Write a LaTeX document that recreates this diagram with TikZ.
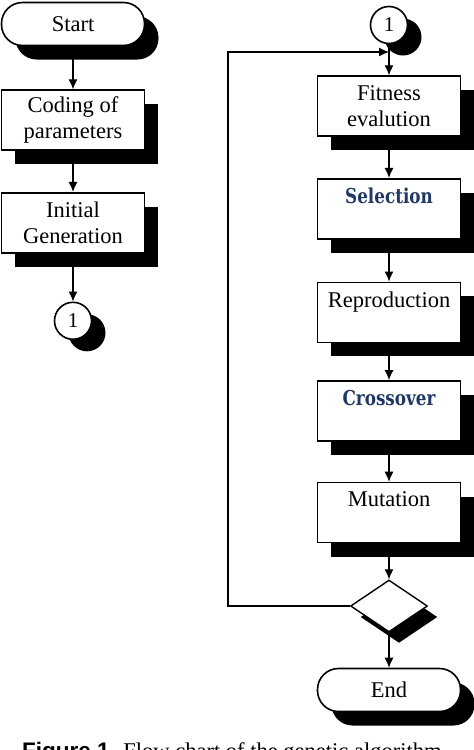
\documentclass[tikz,border=0pt]{standalone}
\usepackage{fontspec}
\setmainfont{Liberation Serif}
\newfontfamily\capsans{Liberation Sans}
\newfontfamily\headfont[FakeStretch=0.82]{DejaVu Serif}
\usetikzlibrary{shapes,
                arrows.meta,
                positioning,
                shadows}
\definecolor{navy}{HTML}{1F3864}
\tikzset{block/.style=
   {rectangle,
    draw,
    fill=white,
    line width=1.6pt,
    align=center,
    minimum width=143pt,
    minimum height=60pt,
    font=\fontsize{22.5}{26}\selectfont,
    drop shadow={shadow xshift=13pt, shadow yshift=-14pt, fill=black, opacity=1}}}
\tikzset{terminal/.style=
   {rectangle,
    draw,
    fill=white,
    line width=1.6pt,
    rounded corners=21pt,
    minimum width=143pt,
    minimum height=43pt,
    font=\fontsize{22.5}{26}\selectfont,
    drop shadow={shadow xshift=14pt, shadow yshift=-14pt, fill=black, opacity=1}}}
\tikzset{connector/.style=
   {circle,
    draw,
    fill=white,
    line width=1.6pt,
    inner sep=0pt,
    minimum size=37pt,
    font=\fontsize{21}{24}\selectfont,
    drop shadow={shadow xshift=14pt, shadow yshift=-12pt, fill=black, opacity=1}}}
\tikzset{decision/.style=
   {diamond,
    draw,
    fill=white,
    line width=1.4pt,
    inner sep=0pt,
    minimum width=77pt,
    minimum height=52pt,
    drop shadow={shadow xshift=10pt, shadow yshift=-11pt, fill=black, opacity=1}}}
\tikzset{bluetext/.style={font=\headfont\bfseries\fontsize{20.5}{26}\selectfont, text=navy}}
\tikzset{arrow/.style = {draw, line width=1.1pt, -{Latex[length=10pt,width=9pt]}}}

\begin{document}
\begin{tikzpicture}[x=1pt, y=-1pt]

    \useasboundingbox (0,0) rectangle (474,750);

    % Left column
    \node [terminal] (start) at (73,24) {Start};
    \node [block, below=43pt of start] (coding) {Coding of\\parameters};
    \node [block, below=41pt of coding] (initial) {Initial\\Generation};
    \node [connector, below=48pt of initial] (linkA) {1};

    % Right column
    \node [connector] (linkB) at (389,25) {1};
    \node [block, below=31pt of linkB] (fitness) {Fitness\\evalution};
    \node [block, bluetext, below=41pt of fitness] (selection) {Selection\\~};
    \node [block, below=42pt of selection] (reproduction) {Reproduction\\~};
    \node [block, bluetext, below=37pt of reproduction] (crossover) {Crossover\\~};
    \node [block, below=40pt of crossover] (mutation) {Mutation\\~};
    \node [decision, below=36pt of mutation] (check) {};
    \node [terminal, below=35pt of check] (finish) {End};

    % Caption
    \node [anchor=base west, inner sep=0pt, font=\fontsize{22.5}{26}\selectfont] (caption) at (22,758)
        {{\capsans\bfseries Figure 1.} Flow chart of the genetic algorithm};

    % Draw edges
    \path [arrow] (start.south) -- (coding.north);
    \path [arrow] (coding.south) -- (initial.north);
    \path [arrow] (initial.south) -- (linkA.north);

    \coordinate (join) at (linkB.center |- 0,52);
    \path [arrow] (linkB.south) -- (fitness.north);
    \path [arrow] (fitness.south) -- (selection.north);
    \path [arrow] (selection.south) -- (reproduction.north);
    \path [arrow] (reproduction.south) -- (crossover.north);
    \path [arrow] (crossover.south) -- (mutation.north);
    \path [arrow] (mutation.south) -- (check.north);
    \path [arrow] (check.south) -- (finish.north);

    % Loop back
    \path [arrow] (check.west) -- (228,0 |- check.west) -- (228,52) -- (join);

\end{tikzpicture}
\end{document}
